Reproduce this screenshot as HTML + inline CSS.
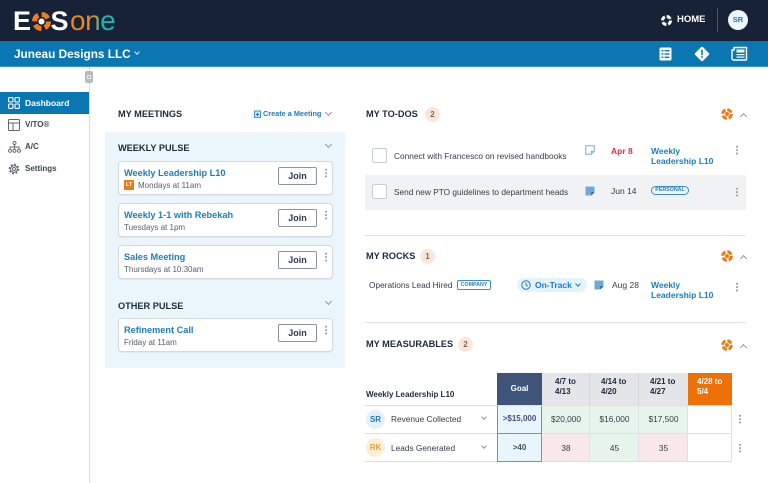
<!DOCTYPE html>
<html><head><meta charset="utf-8">
<style>
*{margin:0;padding:0;box-sizing:border-box}
body{width:768px;height:483px;overflow:hidden;background:#fff;font-family:"Liberation Sans",sans-serif;position:relative;color:#1e2a3b}
.a{position:absolute}
.t{position:absolute;white-space:nowrap;line-height:12px}
.h{font-weight:bold;font-size:9.2px;color:#1e2a3b}
.card{position:absolute;left:118px;width:215px;height:34px;background:#fff;border:1px solid #d3d9e1;border-radius:4px;box-shadow:0 1px 1px rgba(0,0,0,.06)}
.ct{position:absolute;left:5px;top:5px;font-weight:bold;font-size:9.2px;color:#1b7dc0;white-space:nowrap;line-height:12px}
.cs{position:absolute;left:5px;top:18px;font-size:8px;color:#56616f;white-space:nowrap;line-height:11px}
.join{position:absolute;left:159px;top:5px;width:39px;height:18px;border:1px solid #8a93a3;border-radius:2px;font-weight:bold;font-size:9px;color:#2d3950;text-align:center;line-height:16px}
.keb{position:absolute;width:2px;height:10px;background:radial-gradient(circle,#9aa2ad 0.9px,transparent 1.1px) 0 0/2px 3.4px repeat-y}
.badge{position:absolute;width:15px;height:15px;border-radius:50%;background:#fbe7d9;color:#7d6656;font-size:8px;font-weight:bold;text-align:center;line-height:15px}
.chev{position:absolute;width:5px;height:5px;border-right:1px solid #8b939e;border-bottom:1px solid #8b939e}
.body{font-size:8.3px;color:#333d4a}
.lnk{font-weight:bold;font-size:8.5px;color:#1b7dc0}
.cell{position:absolute;font-size:8.3px;color:#333d4a;text-align:center}
</style></head><body>

<!-- Top bar -->
<div class="a" style="left:0;top:0;width:768px;height:41px;background:#172237"></div>
<div class="t" style="left:13px;top:6px;line-height:30px;font-size:27px;font-weight:bold;color:#fff;letter-spacing:-0.5px">E<span style="display:inline-block;width:20px"></span>S</div>
<svg class="a" style="left:32px;top:12px" width="19" height="19" viewBox="0 0 19 19"><circle cx="9.5" cy="9.5" r="7" fill="none" stroke="#f07c1d" stroke-width="5" stroke-dasharray="7.5 3.5"/><circle cx="9.5" cy="9.5" r="3" fill="#fff"/></svg>
<div class="t" style="left:70px;top:6px;line-height:30px;font-size:28px;font-weight:normal;letter-spacing:-0.5px;background:linear-gradient(90deg,#f07c1d 0%,#f08a24 50%,#1bb3b2 70%,#22b8b0 100%);-webkit-background-clip:text;background-clip:text;color:transparent">one</div>
<svg class="a" style="left:661px;top:15px" width="11" height="11" viewBox="0 0 11 11"><circle cx="5.5" cy="5.5" r="4" fill="none" stroke="#fff" stroke-width="3" stroke-dasharray="4.5 1.8"/></svg>
<div class="t" style="left:677px;top:14px;font-weight:bold;font-size:9.5px;color:#fff">HOME</div>
<div class="a" style="left:717px;top:8px;width:1px;height:24px;background:#4a556a"></div>
<div class="a" style="left:728px;top:10px;width:20px;height:20px;border-radius:50%;background:#eef6fb;color:#1b7dc0;font-weight:bold;font-size:7.5px;text-align:center;line-height:20px">SR</div>

<!-- Blue bar -->
<div class="a" style="left:0;top:41px;width:768px;height:26px;background:#0b77b2;border-bottom:1px solid #3a98c9"></div>
<div class="t" style="left:14px;top:47px;line-height:14px;font-weight:bold;font-size:11.8px;color:#fff">Juneau Designs LLC</div>
<div class="chev" style="left:135px;top:50px;width:4px;height:4px;border-color:#dbeaf3;transform:rotate(45deg)"></div>
<svg class="a" style="left:659px;top:47px" width="13" height="14" viewBox="0 0 13 14"><rect x="0.5" y="0.5" width="12" height="13" rx="1.5" fill="#fff"/><g fill="#0b77b2"><rect x="2.5" y="3" width="2" height="1.4"/><rect x="5.5" y="3" width="5" height="1.4"/><rect x="2.5" y="6.3" width="2" height="1.4"/><rect x="5.5" y="6.3" width="5" height="1.4"/><rect x="2.5" y="9.6" width="2" height="1.4"/><rect x="5.5" y="9.6" width="5" height="1.4"/></g></svg>
<svg class="a" style="left:693px;top:45px" width="18" height="18" viewBox="0 0 18 18"><rect x="3.5" y="3.5" width="11" height="11" rx="1.5" transform="rotate(45 9 9)" fill="#fff"/><rect x="8.2" y="4.8" width="1.6" height="5.5" fill="#0b77b2"/><rect x="8.2" y="11.2" width="1.6" height="1.6" fill="#0b77b2"/></svg>
<svg class="a" style="left:731px;top:46px" width="17" height="15" viewBox="0 0 17 15"><path d="M3 1.5h12.5v11.5a1 1 0 0 1-1 1H2.5A1.5 1.5 0 0 1 1 12.5V4h2z" fill="none" stroke="#fff" stroke-width="1.4"/><rect x="5.5" y="3.5" width="8" height="3" fill="#fff"/><rect x="5.5" y="8" width="8" height="1.2" fill="#fff"/><rect x="5.5" y="10.5" width="8" height="1.2" fill="#fff"/></svg>

<!-- Sidebar -->
<div class="a" style="left:89px;top:67px;width:1px;height:416px;background:#d9dde3"></div>
<div class="a" style="left:85px;top:71px;width:8px;height:12px;background:#b7bcc4;border-radius:2px"></div>
<div class="a" style="left:87px;top:75px;width:4px;height:4px;border:1px solid #e5e7ea"></div>
<div class="a" style="left:0;top:92px;width:89px;height:22px;background:#0b77b2"></div>
<svg class="a" style="left:8px;top:97px" width="12" height="12" viewBox="0 0 12 12"><g fill="none" stroke="#fff" stroke-width="1.1"><rect x="0.6" y="0.6" width="4.4" height="4.4" rx="1"/><rect x="7" y="0.6" width="4.4" height="4.4" rx="1"/><rect x="0.6" y="7" width="4.4" height="4.4" rx="1"/><rect x="7" y="7" width="4.4" height="4.4" rx="1"/></g></svg>
<div class="t" style="left:25px;top:97px;font-weight:bold;font-size:8.5px;color:#fff">Dashboard</div>
<svg class="a" style="left:8px;top:119px" width="12" height="12" viewBox="0 0 12 12"><g fill="none" stroke="#5d6673" stroke-width="1"><rect x="0.5" y="0.5" width="11" height="11" rx="1"/><path d="M0.5 4h11M5 4v7.5"/></g></svg>
<div class="t" style="left:25px;top:119px;font-weight:bold;font-size:8px;color:#3d4552">V/TO®</div>
<svg class="a" style="left:8px;top:141px" width="13" height="12" viewBox="0 0 13 12"><g fill="none" stroke="#5d6673" stroke-width="0.9"><circle cx="6.5" cy="2" r="1.5"/><circle cx="2" cy="9.8" r="1.5"/><circle cx="6.5" cy="9.8" r="1.5"/><circle cx="11" cy="9.8" r="1.5"/><path d="M6.5 3.5v4.8M2 8.3V6h9v2.3"/></g></svg>
<div class="t" style="left:25px;top:141px;font-weight:bold;font-size:8px;color:#3d4552">A/C</div>
<svg class="a" style="left:8px;top:163px" width="12" height="12" viewBox="0 0 12 12"><circle cx="6" cy="6" r="4.2" fill="none" stroke="#5d6673" stroke-width="2.2" stroke-dasharray="1.7 1.6"/><circle cx="6" cy="6" r="3.3" fill="#fff" stroke="#5d6673" stroke-width="0.9"/><circle cx="6" cy="6" r="1.5" fill="none" stroke="#5d6673" stroke-width="0.9"/></svg>
<div class="t" style="left:25px;top:163px;font-weight:bold;font-size:8px;color:#3d4552">Settings</div>

<!-- My meetings -->
<div class="t h" style="left:118px;top:108px">MY MEETINGS</div>
<svg class="a" style="left:254px;top:110px" width="7" height="8" viewBox="0 0 7 8"><rect x="0.5" y="1" width="6" height="6.5" fill="#cfe5f3" stroke="#1b7dc0" stroke-width="0.8"/><rect x="3" y="3" width="1" height="3" fill="#1b7dc0"/><rect x="2" y="4" width="3" height="1" fill="#1b7dc0"/></svg>
<div class="t" style="left:263px;top:108px;font-weight:bold;font-size:7.3px;color:#1b7dc0">Create a Meeting</div>
<div class="chev" style="left:326px;top:110px;transform:rotate(45deg)"></div>

<div class="a" style="left:105px;top:132px;width:240px;height:236px;background:#ebf6fc"></div>
<div class="t h" style="left:118px;top:142px">WEEKLY PULSE</div>
<div class="chev" style="left:326px;top:142px;transform:rotate(45deg)"></div>

<div class="card" style="top:161px"><div class="ct">Weekly Leadership L10</div><div class="a" style="left:5px;top:18px;width:10px;height:10px;background:#ef7a14;color:#fff;font-size:5.5px;font-weight:bold;text-align:center;line-height:10px">LT</div><div class="cs" style="left:19px">Mondays at 11am</div><div class="join">Join</div><div class="keb" style="left:206px;top:6px"></div></div>
<div class="card" style="top:203px"><div class="ct">Weekly 1-1 with Rebekah</div><div class="cs">Tuesdays at 1pm</div><div class="join">Join</div><div class="keb" style="left:206px;top:6px"></div></div>
<div class="card" style="top:245px"><div class="ct">Sales Meeting</div><div class="cs">Thursdays at 10:30am</div><div class="join">Join</div><div class="keb" style="left:206px;top:6px"></div></div>

<div class="t h" style="left:118px;top:300px">OTHER PULSE</div>
<div class="chev" style="left:326px;top:299px;transform:rotate(45deg)"></div>
<div class="card" style="top:318px"><div class="ct">Refinement Call</div><div class="cs">Friday at 11am</div><div class="join">Join</div><div class="keb" style="left:206px;top:6px"></div></div>

<!-- MY TO-DOS -->
<div class="t h" style="left:366px;top:108px">MY TO-DOS</div>
<div class="badge" style="left:425px;top:107px">2</div>
<svg class="a" style="left:721px;top:108px" width="12" height="12" viewBox="0 0 12 12"><circle cx="6" cy="6" r="4.3" fill="none" stroke="#ef7a14" stroke-width="3" stroke-dasharray="5 1.8"/><circle cx="6" cy="6" r="2" fill="#ef7a14"/></svg>
<div class="chev" style="left:741px;top:114px;transform:rotate(-135deg)"></div>

<div class="a" style="left:372px;top:148px;width:15px;height:15px;border:1px solid #c5ccd5;border-radius:2px;background:#fff"></div>
<div class="t body" style="left:394px;top:150px">Connect with Francesco on revised handbooks</div>
<svg class="a" style="left:585px;top:145px" width="10" height="10" viewBox="0 0 10 10"><path d="M0.7 0.7h8.6v5.5l-3 3H0.7z" fill="#fff" stroke="#6fb0dc" stroke-width="1"/><path d="M9.3 6.2h-3v3" fill="none" stroke="#6fb0dc" stroke-width="1"/></svg>
<div class="t" style="left:611px;top:145px;font-weight:bold;font-size:8.5px;color:#d7304f">Apr 8</div>
<div class="t lnk" style="left:651px;top:145px">Weekly</div>
<div class="t lnk" style="left:651px;top:155px">Leadership L10</div>
<div class="keb" style="left:736px;top:145px"></div>

<div class="a" style="left:365px;top:175px;width:381px;height:35px;background:#f1f2f4"></div>
<div class="a" style="left:372px;top:184px;width:15px;height:15px;border:1px solid #c5ccd5;border-radius:2px;background:#fff"></div>
<div class="t body" style="left:394px;top:186px">Send new PTO guidelines to department heads</div>
<svg class="a" style="left:585px;top:186px" width="10" height="10" viewBox="0 0 10 10"><path d="M0.5 0.5h9v5.8l-3.2 3.2H0.5z" fill="#6fa9d6"/><path d="M9.5 6.3h-3.2v3.2z" fill="#1d5f97"/></svg>
<div class="t body" style="left:611px;top:185px;font-size:8.5px">Jun 14</div>
<div class="a" style="left:651px;top:186px;width:38px;height:9px;border:1px solid #3a8fcb;border-radius:5px;font-size:5.3px;font-weight:bold;color:#2c7fbe;text-align:center;line-height:7px">PERSONAL</div>
<div class="keb" style="left:736px;top:187px"></div>

<div class="a" style="left:365px;top:235px;width:381px;height:1px;background:#dfe2e6"></div>

<!-- MY ROCKS -->
<div class="t h" style="left:366px;top:250px">MY ROCKS</div>
<div class="badge" style="left:420px;top:249px">1</div>
<svg class="a" style="left:721px;top:250px" width="12" height="12" viewBox="0 0 12 12"><circle cx="6" cy="6" r="4.3" fill="none" stroke="#ef7a14" stroke-width="3" stroke-dasharray="5 1.8"/><circle cx="6" cy="6" r="2" fill="#ef7a14"/></svg>
<div class="chev" style="left:741px;top:256px;transform:rotate(-135deg)"></div>

<div class="t body" style="left:369px;top:279px">Operations Lead Hired</div>
<div class="a" style="left:457px;top:280px;width:34px;height:10px;border:1px solid #3a8fcb;border-radius:2px;font-size:5.3px;font-weight:bold;color:#2c7fbe;text-align:center;line-height:8px">COMPANY</div>
<div class="a" style="left:517px;top:278px;width:70px;height:14px;background:#e4f2fa;border-radius:7px"></div>
<svg class="a" style="left:521px;top:280px" width="10" height="10" viewBox="0 0 10 10"><circle cx="5" cy="5" r="4.2" fill="none" stroke="#1b7dc0" stroke-width="1"/><path d="M5 2.5V5l1.8 1.2" fill="none" stroke="#1b7dc0" stroke-width="1"/></svg>
<div class="t" style="left:535px;top:279px;font-weight:bold;font-size:8.5px;color:#1b7dc0">On-Track</div>
<div class="chev" style="left:576px;top:282px;width:4px;height:4px;transform:rotate(45deg);border-color:#1b7dc0"></div>
<svg class="a" style="left:594px;top:280px" width="10" height="10" viewBox="0 0 10 10"><path d="M0.5 0.5h9v5.8l-3.2 3.2H0.5z" fill="#6fa9d6"/><path d="M9.5 6.3h-3.2v3.2z" fill="#1d5f97"/></svg>
<div class="t body" style="left:612px;top:279px;font-size:8.5px">Aug 28</div>
<div class="t lnk" style="left:651px;top:279px">Weekly</div>
<div class="t lnk" style="left:651px;top:289px">Leadership L10</div>
<div class="keb" style="left:736px;top:282px"></div>

<div class="a" style="left:365px;top:322px;width:381px;height:1px;background:#dfe2e6"></div>

<!-- MY MEASURABLES -->
<div class="t h" style="left:366px;top:338px">MY MEASURABLES</div>
<div class="badge" style="left:458px;top:337px">2</div>
<svg class="a" style="left:721px;top:339px" width="12" height="12" viewBox="0 0 12 12"><circle cx="6" cy="6" r="4.3" fill="none" stroke="#ef7a14" stroke-width="3" stroke-dasharray="5 1.8"/><circle cx="6" cy="6" r="2" fill="#ef7a14"/></svg>
<div class="chev" style="left:741px;top:345px;transform:rotate(-135deg)"></div>

<div class="t" style="left:366px;top:389px;font-weight:bold;font-size:8px;color:#1e2a3b">Weekly Leadership L10</div>

<!-- header -->
<div class="a" style="left:497px;top:373px;width:45px;height:32px;background:#3e5479;color:#fff;font-weight:bold;font-size:8px;text-align:center;line-height:32px">Goal</div>
<div class="a" style="left:542px;top:373px;width:48px;height:32px;background:#e3e5e8;border-right:1px solid #d3d7dc"></div>
<div class="a" style="left:590px;top:373px;width:49px;height:32px;background:#e3e5e8;border-right:1px solid #d3d7dc"></div>
<div class="a" style="left:639px;top:373px;width:49px;height:32px;background:#e3e5e8"></div>
<div class="a" style="left:688px;top:373px;width:44px;height:32px;background:#ee7008"></div>
<div class="t" style="left:555px;top:377px;font-weight:bold;font-size:8px;line-height:10px;color:#1e2a3b">4/7 to<br>4/13</div>
<div class="t" style="left:601px;top:377px;font-weight:bold;font-size:8px;line-height:10px;color:#1e2a3b">4/14 to<br>4/20</div>
<div class="t" style="left:650px;top:377px;font-weight:bold;font-size:8px;line-height:10px;color:#1e2a3b">4/21 to<br>4/27</div>
<div class="t" style="left:697px;top:377px;font-weight:bold;font-size:8px;line-height:10px;color:#fff">4/28 to<br>5/4</div>

<!-- rows -->
<div class="a" style="left:365px;top:405px;width:367px;height:1px;background:#dde0e4"></div>
<div class="a" style="left:365px;top:433px;width:367px;height:1px;background:#dde0e4"></div>
<div class="a" style="left:365px;top:461px;width:367px;height:1px;background:#dde0e4"></div>

<div class="a" style="left:366px;top:410px;width:19px;height:19px;border-radius:50%;background:#e3f1fa;color:#1b7dc0;font-weight:bold;font-size:8px;text-align:center;line-height:19px">SR</div>
<div class="t body" style="left:391px;top:413px">Revenue Collected</div>
<div class="chev" style="left:482px;top:415px;width:4px;height:4px;transform:rotate(45deg)"></div>
<div class="a" style="left:366px;top:438px;width:19px;height:19px;border-radius:50%;background:#fcefd8;color:#e3a13a;font-weight:bold;font-size:8px;text-align:center;line-height:19px">RK</div>
<div class="t body" style="left:391px;top:442px">Leads Generated</div>
<div class="chev" style="left:482px;top:444px;width:4px;height:4px;transform:rotate(45deg)"></div>

<div class="a" style="left:497px;top:406px;width:45px;height:56px;background:#e9f5fc;border:1px solid #4f9fd4;border-top:none"></div>
<div class="a" style="left:498px;top:433px;width:43px;height:1px;background:#4f9fd4"></div>
<div class="t" style="left:497px;top:413px;width:45px;text-align:center;font-weight:bold;font-size:8px;color:#3e5479">&gt;$15,000</div>
<div class="t" style="left:497px;top:442px;width:45px;text-align:center;font-weight:bold;font-size:8px;color:#3e5479">&gt;40</div>

<div class="a" style="left:542px;top:406px;width:48px;height:27px;background:#e6f4ec;border-right:1px solid #dde0e4"></div>
<div class="a" style="left:590px;top:406px;width:49px;height:27px;background:#e6f4ec;border-right:1px solid #dde0e4"></div>
<div class="a" style="left:639px;top:406px;width:49px;height:27px;background:#e6f4ec;border-right:1px solid #dde0e4"></div>
<div class="a" style="left:688px;top:406px;width:44px;height:27px;background:#fff;border-right:1px solid #dde0e4"></div>
<div class="a" style="left:542px;top:434px;width:48px;height:27px;background:#f9e8e9;border-right:1px solid #dde0e4"></div>
<div class="a" style="left:590px;top:434px;width:49px;height:27px;background:#e6f4ec;border-right:1px solid #dde0e4"></div>
<div class="a" style="left:639px;top:434px;width:49px;height:27px;background:#f9e8e9;border-right:1px solid #dde0e4"></div>
<div class="a" style="left:688px;top:434px;width:44px;height:27px;background:#fff;border-right:1px solid #dde0e4"></div>

<div class="t cell" style="left:542px;top:413px;width:48px">$20,000</div>
<div class="t cell" style="left:590px;top:413px;width:49px">$16,000</div>
<div class="t cell" style="left:639px;top:413px;width:49px">$17,500</div>
<div class="t cell" style="left:542px;top:442px;width:48px">38</div>
<div class="t cell" style="left:590px;top:442px;width:49px">45</div>
<div class="t cell" style="left:639px;top:442px;width:49px">35</div>
<div class="keb" style="left:739px;top:414px"></div>
<div class="keb" style="left:739px;top:443px"></div>

</body></html>
